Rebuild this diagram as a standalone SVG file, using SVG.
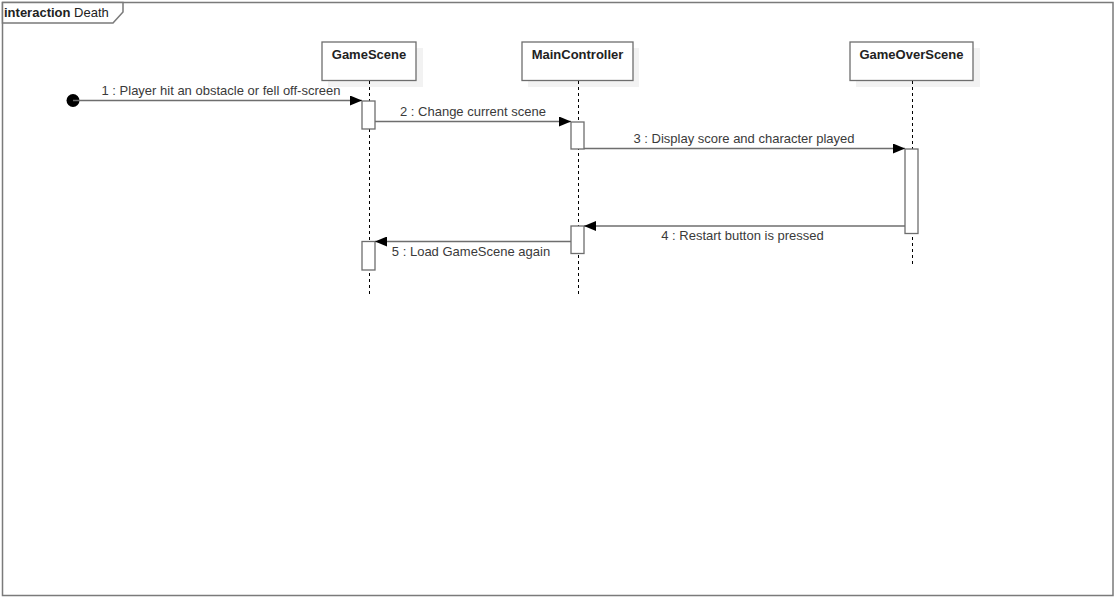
<svg xmlns="http://www.w3.org/2000/svg" width="1115" height="597" viewBox="0 0 1115 597">
<style>
.frame{fill:#fff;stroke:#7a7a7a;stroke-width:1.5}
.hd{fill:#fff;stroke:#6e6e6e;stroke-width:1.3}
.sh{fill:#f2f2f2;stroke:none}
.life{stroke:#000;stroke-width:1;stroke-dasharray:3,3;fill:none}
.act{fill:#fff;stroke:#6e6e6e;stroke-width:1.3}
.msg{stroke:#6e6e6e;stroke-width:1.3;fill:none}
.nm{font-family:"Liberation Sans",Arial,sans-serif;font-size:13px;font-weight:bold;fill:#222;text-anchor:middle}
.lb{font-family:"Liberation Sans",Arial,sans-serif;font-size:13px;fill:#3a3a3a;text-anchor:middle}
.tt{font-family:"Liberation Sans",Arial,sans-serif;font-size:13px;fill:#222}
</style>
<defs>
<marker id="ah" viewBox="0 0 12 10" refX="12" refY="5" markerWidth="12" markerHeight="10" markerUnits="userSpaceOnUse" orient="auto">
<path d="M0,0 L12,5 L0,10 Z" fill="#000"/>
</marker>
</defs>
<rect width="1115" height="597" fill="#fff"/>
<g id="frame">
<rect class="frame" x="2.5" y="2.5" width="1110.5" height="593"/>
<path class="frame" d="M2.5,2.5 L123,2.5 L123,12 L113,23 L2.5,23 Z"/>
<text class="tt" x="4" y="17"><tspan font-weight="bold">interaction</tspan> Death</text>
</g>
<g id="GameScene">
<rect class="sh" x="328" y="48" width="95" height="39"/>
<rect class="hd" x="322" y="42" width="94" height="38.5"/>
<text class="nm" x="369" y="59">GameScene</text>
<line class="life" x1="369.5" y1="81" x2="369.5" y2="296"/>
<rect class="act" x="362" y="101" width="13" height="28"/>
<rect class="act" x="362" y="241.5" width="13" height="28.5"/>
</g>
<g id="MainController">
<rect class="sh" x="528" y="48" width="111" height="39"/>
<rect class="hd" x="522" y="42" width="111" height="38.5"/>
<text class="nm" x="577.5" y="59">MainController</text>
<line class="life" x1="578.5" y1="81" x2="578.5" y2="296"/>
<rect class="act" x="571" y="122" width="13" height="27"/>
<rect class="act" x="571" y="226" width="13" height="27.5"/>
</g>
<g id="GameOverScene">
<rect class="sh" x="856" y="48" width="124" height="39"/>
<rect class="hd" x="850" y="42" width="123" height="38.5"/>
<text class="nm" x="911.5" y="59">GameOverScene</text>
<line class="life" x1="912.5" y1="81" x2="912.5" y2="266"/>
<rect class="act" x="905" y="149" width="13" height="84.5"/>
</g>
<g id="connectors">
<circle cx="73" cy="100.5" r="6.5" fill="#000"/>
<line class="msg" x1="73" y1="100.5" x2="362" y2="100.5" marker-end="url(#ah)"/>
<text class="lb" x="221" y="95">1 : Player hit an obstacle or fell off-screen</text>
<line class="msg" x1="375" y1="121.5" x2="571" y2="121.5" marker-end="url(#ah)"/>
<text class="lb" x="473" y="116">2 : Change current scene</text>
<line class="msg" x1="584" y1="148.5" x2="905" y2="148.5" marker-end="url(#ah)"/>
<text class="lb" x="744" y="143">3 : Display score and character played</text>
<line class="msg" x1="905" y1="226" x2="584" y2="226" marker-end="url(#ah)"/>
<text class="lb" x="742.5" y="240">4 : Restart button is pressed</text>
<line class="msg" x1="571" y1="241.5" x2="375" y2="241.5" marker-end="url(#ah)"/>
<text class="lb" x="471" y="256">5 : Load GameScene again</text>
</g>
</svg>
